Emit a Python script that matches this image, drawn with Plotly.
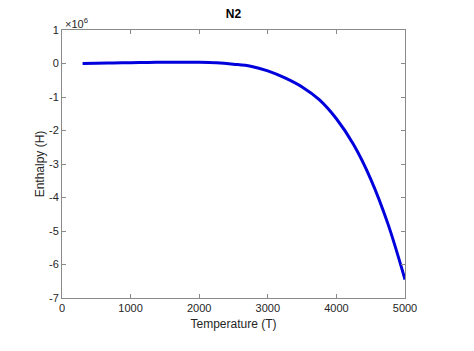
import plotly.graph_objects as go

temperature = [300, 500, 750, 1000, 1250, 1500, 1750, 2000, 2250, 2500, 2750,
               3000, 3250, 3500, 3750, 4000, 4250, 4500, 4750, 5000]
enthalpy = [0, 8000, 17000, 25000, 32000, 37000, 40000, 38000, 22000, -20000,
            -80000, -220000, -430000, -700000, -1080000, -1650000, -2420000,
            -3450000, -4780000, -6450000]

y_ticks = [1, 0, -1, -2, -3, -4, -5, -6, -7]
x_ticks = [0, 1000, 2000, 3000, 4000, 5000]

fnt = "Liberation Sans, Arial, sans-serif"
axis_col = "#8a8a8a"
txt_col = "#262626"

fig = go.Figure()
fig.add_trace(go.Scatter(x=temperature, y=enthalpy, mode="lines",
                         line=dict(color="#0000dd", width=3, shape="spline", smoothing=1.0)))

fig.update_layout(
    width=474, height=351,
    margin=dict(l=62, r=69, t=30, b=53),
    paper_bgcolor="white", plot_bgcolor="white",
    showlegend=False,
    title=dict(text="<b>N2</b>", x=(62 + 405) / 2 / 474, xanchor="center",
               y=1 - 14 / 351, yanchor="middle",
               font=dict(family=fnt, size=12, color="black")),
    font=dict(family=fnt, color=txt_col),
)
fig.update_xaxes(range=[0, 5000], tickvals=x_ticks, ticktext=[str(v) for v in x_ticks],
                 showgrid=False, zeroline=False, showline=True, linecolor=axis_col,
                 linewidth=1, mirror="ticks", ticks="inside", tickcolor=axis_col,
                 ticklen=4, tickfont=dict(size=11, color=txt_col),
                 title=dict(text="Temperature (T)", font=dict(size=12, color=txt_col), standoff=6))
fig.update_yaxes(range=[-7e6, 1e6], tickvals=[v * 1e6 for v in y_ticks],
                 ticktext=[str(v) for v in y_ticks],
                 showgrid=False, zeroline=False, showline=True, linecolor=axis_col,
                 linewidth=1, mirror="ticks", ticks="inside", tickcolor=axis_col,
                 ticklen=4, tickfont=dict(size=11, color=txt_col),
                 title=dict(text="Enthalpy (H)", font=dict(size=12, color=txt_col), standoff=1))
fig.add_annotation(text="×10<sup>6</sup>", xref="paper", yref="paper", x=0.0, y=1.0,
                   xanchor="left", yanchor="bottom", showarrow=False,
                   font=dict(family=fnt, size=11, color=txt_col), xshift=1, yshift=-2)

fig.write_html("out.html")
